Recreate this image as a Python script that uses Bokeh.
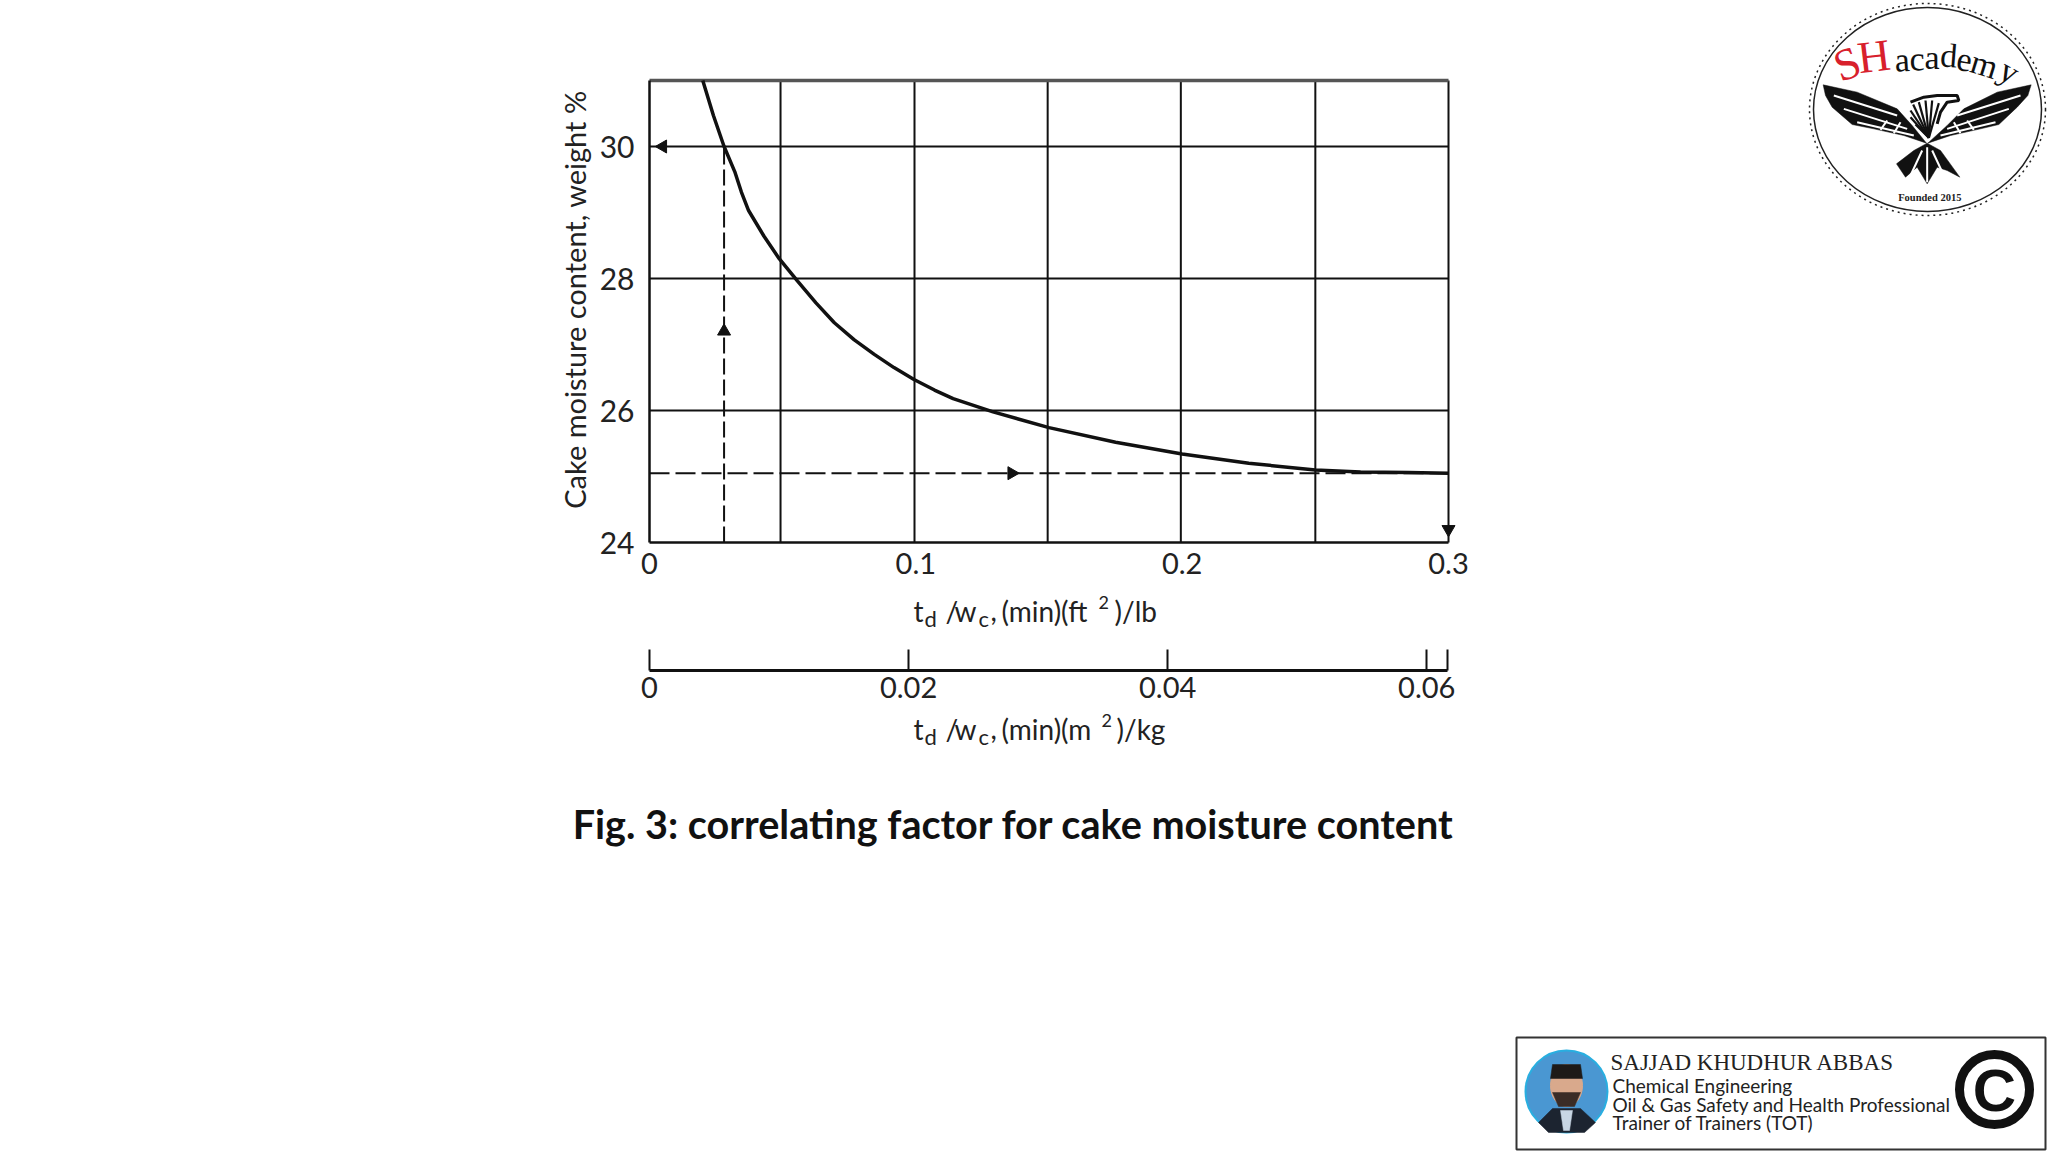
from math import pi
from bokeh.core.properties import value
from bokeh.embed import file_html
from bokeh.models import FixedTicker, LinearAxis, Range1d
from bokeh.plotting import figure
from bokeh.resources import INLINE

# ---- chart values ----
curve_x = [0.020, 0.024, 0.028, 0.032, 0.0345, 0.0372, 0.043, 0.0487, 0.0556, 0.0625, 0.0694, 0.0769, 0.0844,
           0.0918, 0.0993, 0.107, 0.114, 0.129, 0.15, 0.175, 0.2, 0.225, 0.25, 0.267, 0.285, 0.3]
curve_y = [31.0, 30.47, 30.0, 29.62, 29.31, 29.03, 28.64, 28.3, 27.96, 27.63, 27.33, 27.07, 26.85,
           26.65, 26.47, 26.31, 26.18, 25.98, 25.74, 25.52, 25.34, 25.2, 25.1, 25.07, 25.06, 25.05]
guide_x = [0.028, 0.028]
guide_y = [24.0, 30.0]
guide2_x = [0.0, 0.3]
guide2_y = [25.05, 25.05]
arrow_x = [0.005, 0.028, 0.136, 0.3]
arrow_y = [30.0, 27.2, 25.05, 24.2]
arrow_angle = [pi / 2, 0.0, -pi / 2, pi]
x_ticks = [0, 0.1, 0.2, 0.3]
y_ticks = [24, 26, 28, 30]
si_ticks = [0, 0.02, 0.04, 0.06, 0.0616]
x_grid = [0.0492, 0.0995, 0.1495, 0.1995, 0.25, 0.3]
y_grid = [26, 28, 30]
x_limits = (0, 0.3)
y_limits = (24, 31)
si_limits = (0, 0.0616)

# ---- layout ----
W, H = 2048, 1152
X0, Y0 = 0, 0
L, R, T, B = 649.0, 1448.0, 80.0, 542.0
SI_Y = 670.0
def xr(px, a=0.3, right=R):
    return a * (px - L) / (right - L)
def yr(px):
    return 24 + 7 * (B - px) / (B - T)

p = figure(frame_width=W, frame_height=H, output_backend="svg", toolbar_location=None,
           x_range=Range1d(xr(X0), xr(X0 + W)), y_range=Range1d(yr(Y0 + H), yr(Y0)),
           x_axis_type=None, y_axis_type=None, min_border=0,
           background_fill_color="white", border_fill_color="white")
p.outline_line_color = None
p.extra_x_ranges["px"] = Range1d(X0, X0 + W)
p.extra_y_ranges["px"] = Range1d(Y0 + H, Y0)
si_right = 1447.0
p.extra_x_ranges["si"] = Range1d(xr(X0, 0.0616, si_right), xr(X0 + W, 0.0616, si_right))

FONT = "Lato"
def style(ax, ticks, size):
    ax.ticker = FixedTicker(ticks=ticks)
    ax.axis_line_color = "#111111"
    ax.major_tick_line_color = "#111111"
    ax.minor_tick_line_color = None
    ax.major_label_text_font = FONT
    ax.major_label_text_font_size = size
    ax.major_label_text_color = "#222222"

xa = LinearAxis(fixed_location=24, bounds=x_limits)
style(xa, x_ticks, "29px")
xa.axis_line_width = 2.5
xa.major_tick_in = 0; xa.major_tick_out = 0
xa.major_label_standoff = 10
xa.major_label_overrides = {0: "0", 0.1: "0.1", 0.2: "0.2", 0.3: "0.3"}
p.add_layout(xa, "below")

ya = LinearAxis(fixed_location=0, bounds=y_limits)
style(ya, y_ticks, "30px")
ya.axis_line_width = 2.5
ya.major_tick_in = 0; ya.major_tick_out = 0
ya.major_label_standoff = 15
ya.major_label_orientation = "horizontal"
p.add_layout(ya, "left")

sa = LinearAxis(fixed_location=yr(SI_Y), bounds=si_limits, x_range_name="si")
style(sa, si_ticks, "29px")
sa.axis_line_width = 3
sa.major_tick_line_width = 2
sa.major_tick_in = 21; sa.major_tick_out = 0
sa.major_label_standoff = 6
sa.major_label_overrides = {0: "0", 0.02: "0.02", 0.04: "0.04", 0.06: "0.06", 0.0616: ""}
p.add_layout(sa, "below")

# grid + frame edges, all from the data scale
for gx in x_grid:
    p.line([gx, gx], list(y_limits), line_color="#111111", line_width=2)
for gy in y_grid:
    p.line(list(x_limits), [gy, gy], line_color="#111111", line_width=2)
p.line(list(x_limits), [y_limits[1], y_limits[1]], line_color="#555555", line_width=3.5)

p.line(guide_x, guide_y, line_color="#111111", line_width=2, line_dash=[16, 5])
p.line(guide2_x, guide2_y, line_color="#111111", line_width=2, line_dash=[20, 6])
p.line(curve_x, curve_y, line_color="#111111", line_width=3.5)
p.scatter(arrow_x, arrow_y, marker="triangle", size=13, angle=arrow_angle,
          fill_color="#111111", line_color="#111111")

# ---- page decoration in pixel coordinates ----
def text(x, y, s, size, font=FONT, style_="normal", color="#222222", align="left",
         base="middle", angle=0.0):
    p.text([x], [y], text=[s], x_range_name="px", y_range_name="px",
           text_font=value(font), text_font_size=f"{size}px", text_font_style=style_,
           text_color=color, text_align=align, text_baseline=base, angle=angle)
def poly(xs, ys, color="#111111"):
    p.patch(xs, ys, x_range_name="px", y_range_name="px", fill_color=color, line_color=color, line_width=0.5)
def seg(xs, ys, color="#111111", width=1.0):
    p.line(xs, ys, x_range_name="px", y_range_name="px", line_color=color, line_width=width)

text(574, 299, "Cake moisture content, weight %", 29, angle=pi / 2, align="center")

for y0, pieces in (
    (610, [(913, "t"), (924, "d"), (945, "/"), (954, "w"), (978, "c"), (990, ","), (1001, "(min)(ft"), (1098, "2"), (1114, ")/lb")]),
    (728, [(913, "t"), (924, "d"), (945, "/"), (954, "w"), (978, "c"), (990, ","), (1001, "(min)(m"), (1101, "2"), (1116, ")/kg")]),
):
    for xp, s in pieces:
        if s in ("d", "c"):
            text(xp, y0 + 8, s, 22)
        elif s == "2":
            text(xp, y0 - 8, s, 18)
        else:
            text(xp, y0, s, 28)

text(1013, 823, "Fig. 3: correlating factor for cake moisture content", 39.6, style_="bold",
     color="#111111", align="center")

# logo
def ell(cx, cy, rx, ry, color="#222222", width=1.5, dash="solid"):
    p.ellipse([cx], [cy], width=[2 * rx], height=[2 * ry], x_range_name="px", y_range_name="px",
              fill_color=None, line_color=color, line_width=width, line_dash=dash)
ell(1927, 109, 118, 106, dash="dotted")
ell(1927, 109, 114, 102)
def zx(v): return 1790 + v / 3
def zy(v): return v / 3
text(zx(170), zy(190), "S", 45, "Liberation Serif", color="#d8202c", align="center", angle=0.35)
text(zx(250), zy(168), "H", 45, "Liberation Serif", color="#d8202c", align="center", angle=0.12)
for zxp, zyp, ch, a in [(335, 178, "a", 0.06), (380, 175, "c", 0.02), (425, 172, "a", 0.0), (475, 165, "d", -0.08),
                        (522, 178, "e", -0.16), (582, 192, "m", -0.3), (657, 212, "y", -0.5)]:
    text(zx(zxp), zy(zyp), ch, 34, "Liberation Serif", color="#111111", align="center", angle=a)
text(zx(418), zy(592), "Founded 2015", 10.5, "Liberation Serif", style_="bold", color="#222222", align="center")

wing_l = [(98, 253), (200, 275), (320, 325), (365, 375), (408, 428), (340, 405), (250, 385), (185, 372), (125, 320), (105, 285)]
wing_r = [(722, 253), (620, 275), (520, 325), (470, 375), (412, 428), (480, 405), (570, 385), (625, 372), (680, 320), (712, 285)]
tail = [(318, 490), (370, 450), (410, 428), (450, 450), (508, 530), (470, 510), (440, 500), (410, 550), (380, 500), (345, 530)]
for shape in (wing_l, wing_r, tail):
    poly([zx(a) for a, _ in shape], [zy(b) for _, b in shape])
# wing feathers cut out in white
for a0, b0, a1, b1 in [(130, 285, 320, 345), (160, 325, 350, 385), (200, 365, 370, 405), (690, 285, 500, 345),
                       (655, 325, 470, 385), (615, 365, 450, 405),
                       (270, 388, 290, 360), (310, 398, 330, 365), (550, 388, 530, 360), (510, 398, 490, 365)]:
    seg([zx(a0), zx(a1)], [zy(b0), zy(b1)], color="white", width=2)
for a0, b0, a1, b1 in [(360, 525, 395, 450), (460, 525, 425, 450), (410, 545, 410, 440)]:
    seg([zx(a0), zx(a1)], [zy(b0), zy(b1)], color="white", width=2)
# head: fan of strokes and beak
for a1, b1 in [(360, 330), (368, 312), (385, 305), (405, 300), (425, 300), (445, 308), (360, 350), (375, 372)]:
    seg([zx(415), zx(a1)], [zy(412), zy(b1)], color="#111111", width=2.2)
seg([zx(360), zx(400), zx(440), zx(500), zx(505), zx(470), zx(450), zx(440)],
    [zy(305), zy(290), zy(285), zy(285), zy(300), zy(305), zy(335), zy(370)], color="#111111", width=3)

# signature box
p.quad(left=[1516], right=[2045], top=[1037], bottom=[1149], x_range_name="px", y_range_name="px",
       fill_color="white", line_color="#333333", line_width=2)
p.ellipse([1566], [1091], width=[82], height=[82], x_range_name="px", y_range_name="px",
          fill_color="#4a97d2", line_color="#29aee0", line_width=2)
poly([1538, 1552, 1580, 1595, 1584, 1548], [1122, 1108, 1108, 1122, 1132, 1132], "#1c2430")
poly([1560, 1572, 1569, 1563], [1110, 1110, 1130, 1130], "#c8d6e4")
p.ellipse([1566], [1085], width=[32], height=[42], x_range_name="px", y_range_name="px",
          fill_color="#d9a98c", line_color="#d9a98c")
poly([1550, 1582, 1580, 1552], [1078, 1078, 1064, 1064], "#1e1a18")
poly([1552, 1580, 1574, 1558], [1092, 1092, 1106, 1106], "#3a2c26")
text(1610, 1062, "SAJJAD KHUDHUR  ABBAS", 23, "Liberation Serif", color="#222222")
text(1612, 1085, "Chemical Engineering", 19)
text(1612, 1104, "Oil & Gas Safety and Health Professional", 19)
text(1612, 1122, "Trainer of Trainers (TOT)", 19)
p.ellipse([1994], [1089], width=[70], height=[70], x_range_name="px", y_range_name="px",
          fill_color=None, line_color="#111111", line_width=9)
text(1994, 1090, "C", 60, "Liberation Sans", style_="bold", color="#111111", align="center")

open("out.html", "w").write(file_html(p, INLINE))
